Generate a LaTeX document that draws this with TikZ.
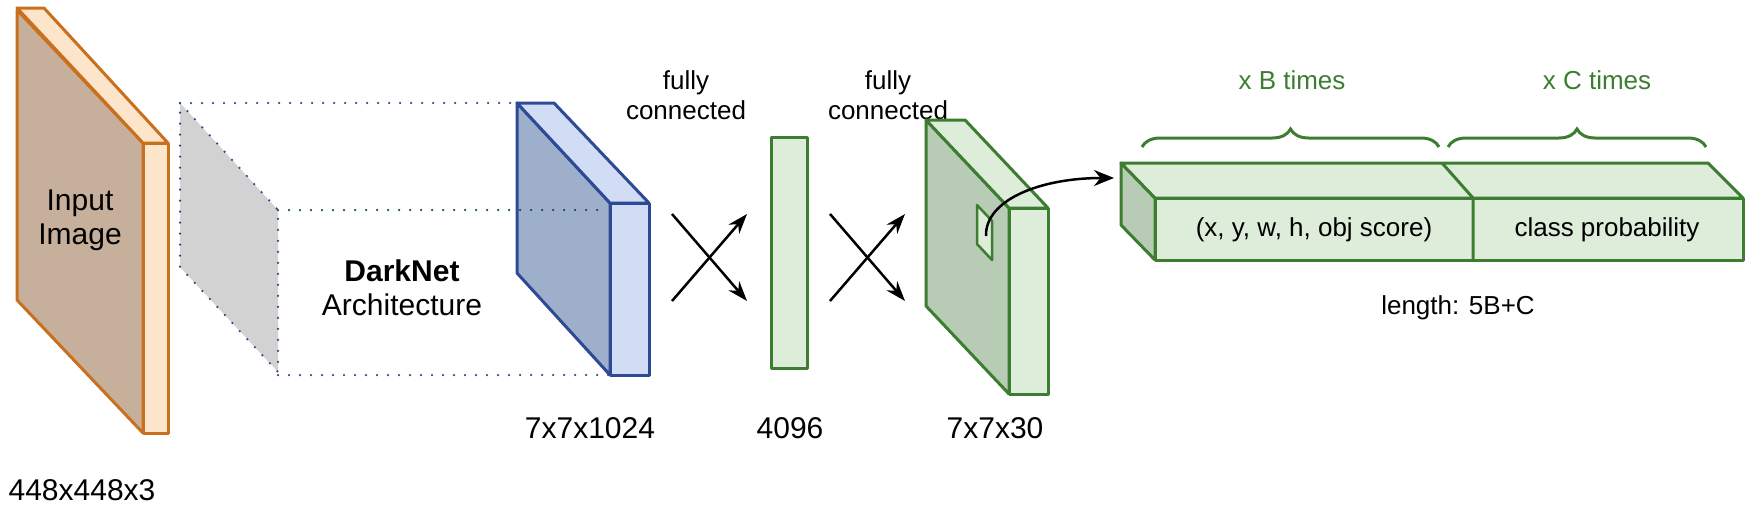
\documentclass[tikz,border=0pt]{standalone}
\usepackage{fontspec}
\setmainfont{Liberation Sans}
\usetikzlibrary{decorations.pathreplacing,arrows.meta}
\definecolor{oedge}{HTML}{C8701E}
\definecolor{ofront}{HTML}{C7B09B}
\definecolor{oside}{HTML}{FDE5CC}
\definecolor{bedge}{HTML}{2E4A96}
\definecolor{bfront}{HTML}{9EAFCC}
\definecolor{bside}{HTML}{D0DDF4}
\definecolor{gedge}{HTML}{3C7D31}
\definecolor{gfill}{HTML}{DDEDD9}
\definecolor{gfront}{HTML}{B8CBB4}
\definecolor{dotc}{HTML}{2A4A8C}
\tikzset{
  lbl/.style={font=\fontsize{30}{34}\selectfont, align=center, inner sep=0},
  small/.style={font=\fontsize{26}{30}\selectfont, align=center, inner sep=0},
  og/.style={draw=oedge, line width=3pt, line join=round},
  bl/.style={draw=bedge, line width=3pt, line join=round},
  gr/.style={draw=gedge, line width=3pt, line join=round},
  dotl/.style={dotc, line width=2.5pt, dash pattern=on 0pt off 11pt, line cap=round},
  xarr/.style={line width=2.5pt, -{Stealth[length=20pt,width=14pt]}},
  brc/.style={gedge, line width=3pt, decorate, decoration={brace, amplitude=18pt}}
}
\begin{document}
\begin{tikzpicture}[x=1pt,y=-1pt]
\useasboundingbox (0,0) rectangle (1750,517);
% input image
\fill[ofront] (17,10) -- (143,143) -- (143,433) -- (17,300) -- cycle;
\draw[og] (17,10) -- (143,143) -- (143,433) -- (17,300) -- cycle;
\draw[og, fill=oside] (17,8) -- (44,8) -- (168,143) -- (143,143) -- cycle;
\draw[og, fill=oside] (143,143) -- (168,143) -- (168,433) -- (143,433) -- cycle;
\node[lbl] (inp) at (80,220) {Input\\Image};
% gray plane
\fill[gray!35] (180,103) -- (278,210) -- (278,372) -- (180,267) -- cycle;
\draw[dotl] (180,103) -- (278,210) -- (278,372) -- (180,267) -- cycle;
\draw[dotl] (180,103) -- (517,103);
\draw[dotl] (278,375) -- (640,375);
\node[lbl] (dn) at (402,288) {\textbf{DarkNet}\\Architecture};
% blue block
\draw[bl, fill=bfront] (517,103) -- (610,203) -- (610,375) -- (517,273) -- cycle;
\draw[bl, fill=bside] (517,103) -- (554,103) -- (649,203) -- (610,203) -- cycle;
\draw[bl, fill=bside] (610,203) -- (649,203) -- (649,375) -- (610,375) -- cycle;
\draw[dotl, dotc!70!green!60!black] (278,210) -- (605,210);
\node[lbl] (l1) at (590,428) {7x7x1024};
\node[lbl] (inl) at (82,490) {448x448x3};
% fc1
\node[small] (fc1) at (686,95) {fully\\connected};
\coordinate (a1) at (672,214); \coordinate (a2) at (747,301);
\coordinate (a3) at (672,301); \coordinate (a4) at (747,214);
\draw[xarr] (a1) -- (a2);
\draw[xarr] (a3) -- (a4);
% 4096 bar
\node[gr, fill=gfill, minimum width=36pt, minimum height=231pt, inner sep=0] (bar) at (789,252.5) {};
\node[lbl] (l2) at (790,428) {4096};
% fc2
\node[small] (fc2) at (888,95) {fully\\connected};
\coordinate (b1) at (830,214); \coordinate (b2) at (905,301);
\coordinate (b3) at (830,301); \coordinate (b4) at (905,214);
\draw[xarr] (b1) -- (b2);
\draw[xarr] (b3) -- (b4);
% green block
\draw[gr, fill=gfront] (926,120) -- (1009,208) -- (1009,394) -- (926,306) -- cycle;
\draw[gr, fill=gfill] (926,120) -- (965,120) -- (1048,208) -- (1009,208) -- cycle;
\draw[gr, fill=gfill] (1009,208) -- (1048,208) -- (1048,394) -- (1009,394) -- cycle;
\draw[gr, fill=gfill, line width=2.5pt] (977,205) -- (992,221) -- (992,260) -- (977,244) -- cycle;
\node[lbl] (l3) at (995,428) {7x7x30};
\coordinate (cs) at (986,236);
% long bar
\draw[gr, fill=gfront] (1121,163) -- (1155,198) -- (1155,260) -- (1121,225) -- cycle;
\draw[gr, fill=gfill] (1121,163) -- (1708,163) -- (1743,198) -- (1155,198) -- cycle;
\draw[gr, fill=gfill] (1155,198) rectangle (1743,260);
\draw[gr] (1442,163) -- (1473,198) -- (1473,260);
\node[small] (t1) at (1314,230) {(x, y, w, h, obj score)};
\node[small] (t2) at (1607,230) {class probability};
\node[small] (len) at (1458,308) {length: 5B+C};
\coordinate (ce) at (1114,178);
\draw[line width=2.5pt, -{Stealth[length=20pt,width=16pt]}] (cs) .. controls (985,200) and (1040,178) .. (ce);
% braces
\draw[brc] (1142,147) -- (1439,147);
\draw[brc] (1448,147) -- (1706,147);
\node[small, text=gedge] (bt) at (1292,80) {x B times};
\node[small, text=gedge] (ctm) at (1597,80) {x C times};
\end{tikzpicture}
\end{document}
